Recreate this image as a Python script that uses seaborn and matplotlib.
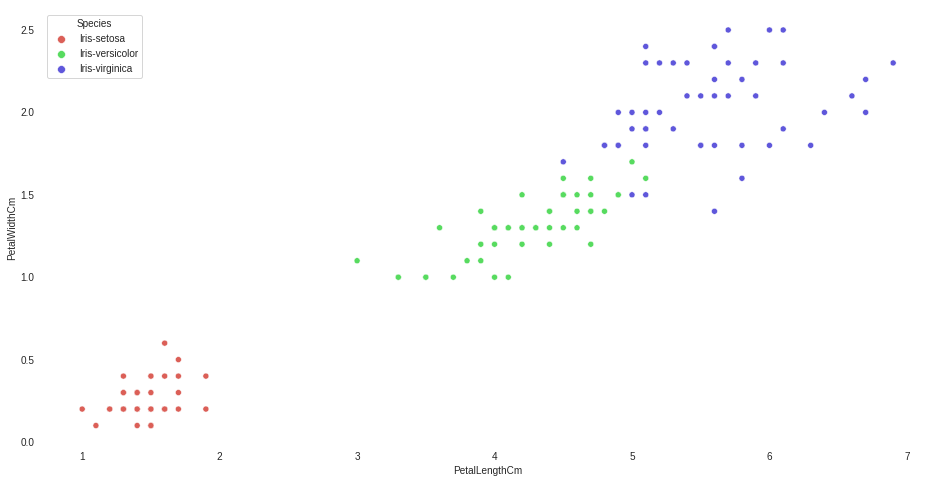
import pandas as pd
import matplotlib
matplotlib.use('Agg')
import matplotlib.pyplot as plt
import seaborn as sns

# Iris petal measurements
setosa_length = [1.4, 1.4, 1.3, 1.5, 1.4, 1.7, 1.4, 1.5, 1.4, 1.5, 1.5, 1.6, 1.4, 1.1, 1.2, 1.5, 1.3,
                 1.4, 1.7, 1.5, 1.7, 1.5, 1.0, 1.7, 1.9, 1.6, 1.6, 1.5, 1.4, 1.6, 1.6, 1.5, 1.5, 1.4,
                 1.5, 1.2, 1.3, 1.5, 1.3, 1.5, 1.3, 1.3, 1.3, 1.6, 1.9, 1.4, 1.6, 1.4, 1.5, 1.4]
setosa_width = [0.2, 0.2, 0.2, 0.2, 0.2, 0.4, 0.3, 0.2, 0.2, 0.1, 0.2, 0.2, 0.1, 0.1, 0.2, 0.4, 0.4,
                0.3, 0.3, 0.3, 0.2, 0.4, 0.2, 0.5, 0.2, 0.2, 0.4, 0.2, 0.2, 0.2, 0.2, 0.4, 0.1, 0.2,
                0.1, 0.2, 0.2, 0.1, 0.2, 0.2, 0.3, 0.3, 0.2, 0.6, 0.4, 0.3, 0.2, 0.2, 0.2, 0.2]
versicolor_length = [4.7, 4.5, 4.9, 4.0, 4.6, 4.5, 4.7, 3.3, 4.6, 3.9, 3.5, 4.2, 4.0, 4.7, 3.6, 4.4,
                     4.5, 4.1, 4.5, 3.9, 4.8, 4.0, 4.9, 4.7, 4.3, 4.4, 4.8, 5.0, 4.5, 3.5, 3.8, 3.7,
                     3.9, 5.1, 4.5, 4.5, 4.7, 4.4, 4.1, 4.0, 4.4, 4.6, 4.0, 3.3, 4.2, 4.2, 4.2, 4.3,
                     3.0, 4.1]
versicolor_width = [1.4, 1.5, 1.5, 1.3, 1.5, 1.3, 1.6, 1.0, 1.3, 1.4, 1.0, 1.5, 1.0, 1.4, 1.3, 1.4,
                    1.5, 1.0, 1.5, 1.1, 1.8, 1.3, 1.5, 1.2, 1.3, 1.4, 1.4, 1.7, 1.5, 1.0, 1.1, 1.0,
                    1.2, 1.6, 1.5, 1.6, 1.5, 1.3, 1.3, 1.3, 1.2, 1.4, 1.2, 1.0, 1.3, 1.2, 1.3, 1.3,
                    1.1, 1.3]
virginica_length = [6.0, 5.1, 5.9, 5.6, 5.8, 6.6, 4.5, 6.3, 5.8, 6.1, 5.1, 5.3, 5.5, 5.0, 5.1, 5.3,
                    5.5, 6.7, 6.9, 5.0, 5.7, 4.9, 6.7, 4.9, 5.7, 6.0, 4.8, 4.9, 5.6, 5.8, 6.1, 6.4,
                    5.6, 5.1, 5.6, 6.1, 5.6, 5.5, 4.8, 5.4, 5.6, 5.1, 5.1, 5.9, 5.7, 5.2, 5.0, 5.2,
                    5.4, 5.1]
virginica_width = [2.5, 1.9, 2.1, 1.8, 2.2, 2.1, 1.7, 1.8, 1.8, 2.5, 2.0, 1.9, 2.1, 2.0, 2.4, 2.3,
                   1.8, 2.2, 2.3, 1.5, 2.3, 2.0, 2.0, 1.8, 2.1, 1.8, 1.8, 1.8, 2.1, 1.6, 1.9, 2.0,
                   2.2, 1.5, 1.4, 2.3, 2.4, 1.8, 1.8, 2.1, 2.4, 2.3, 1.9, 2.3, 2.5, 2.3, 1.9, 2.0,
                   2.3, 1.8]
species = ['Iris-setosa', 'Iris-versicolor', 'Iris-virginica']

df = pd.DataFrame({
    'PetalLengthCm': setosa_length + versicolor_length + virginica_length,
    'PetalWidthCm': setosa_width + versicolor_width + virginica_width,
    'Species': [species[0]] * 50 + [species[1]] * 50 + [species[2]] * 50,
})

sns.set_style('white')
plt.rcParams['font.family'] = ['Liberation Sans', 'DejaVu Sans']

fig = plt.figure(figsize=(944 / 72, 481 / 72), dpi=72)
ax = fig.add_axes([0.0441, 0.0742, 0.945, 0.9046])
sns.scatterplot(data=df, x='PetalLengthCm', y='PetalWidthCm', hue='Species',
                palette='hls', ax=ax)
sns.despine(left=True, bottom=True)
sns.move_legend(ax, 'upper left', markerscale=1.3)

fig.savefig('out.png', dpi=72)
